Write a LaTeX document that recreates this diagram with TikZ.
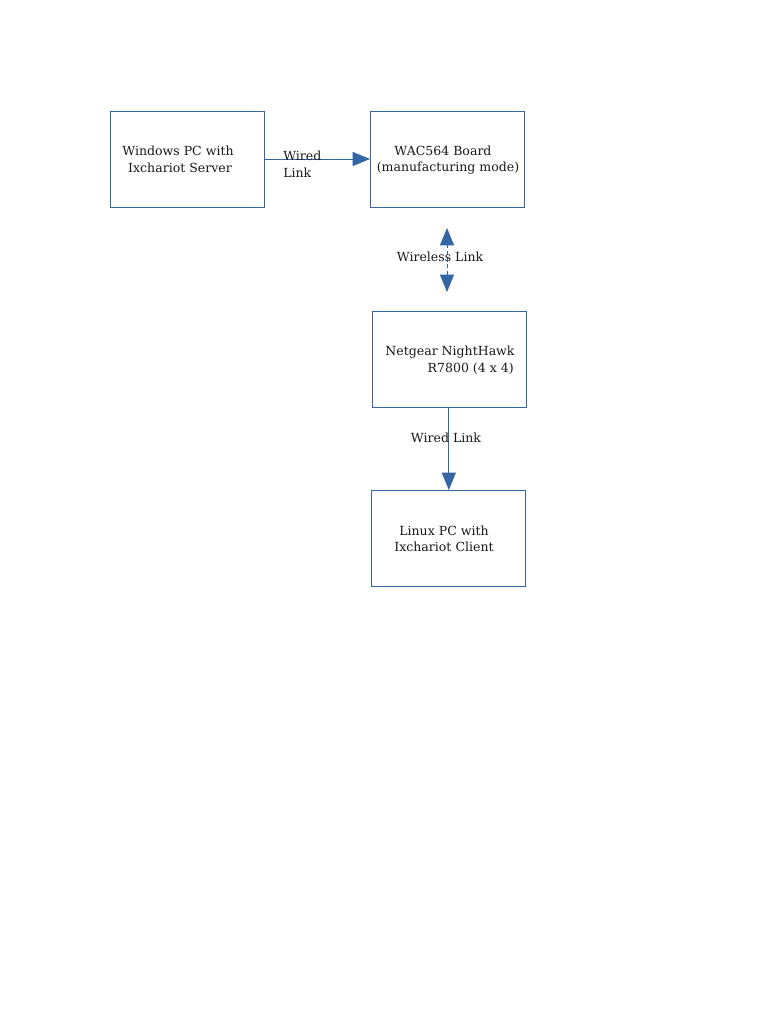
\documentclass[tikz,border=0pt]{standalone}
\usepackage{fontspec}
\setmainfont{DejaVu Serif}
\usetikzlibrary{arrows.meta}
\definecolor{lblue}{RGB}{52,101,164}
\begin{document}
\begin{tikzpicture}[x=0.75pt,y=-0.75pt,
  box/.style={draw=lblue,line width=0.75pt,minimum width=115.5pt,minimum height=72pt,inner sep=0pt},
  conn/.style={draw=lblue,line width=0.75pt,-{Triangle[length=13pt,width=10.5pt]}},
  txt/.style={font=\fontsize{9.4pt}{12.5pt}\selectfont,inner sep=0pt,text=black!90}]
\useasboundingbox[fill=white] (0,0) rectangle (768,1024);
\node[box] (win) at (187,159) {};
\node[box] (wac) at (447.5,159) {};
\node[box] (net) at (449.5,359.5) {};
\node[box] (lin) at (448.5,538.5) {};
% texts
\node[txt] at (178,151) {Windows PC with};
\node[txt] at (180,168) {Ixchariot Server};
\node[txt] at (443,151) {WAC564 Board};
\node[txt] at (448,168) {(manufacturing mode)};
\node[txt] at (450,352) {Netgear NightHawk};
\node[txt,anchor=east] at (514,369) {R7800 (4 x 4)};
\node[txt] at (444,531) {Linux PC with};
\node[txt] at (444,547) {Ixchariot Client};
% connectors
\draw[conn] (win.east) -- (wac.west);
\node[txt,anchor=west] at (283,156) {Wired};
\node[txt,anchor=west] at (283,173) {Link};
\coordinate (wt) at (447,228);
\coordinate (wb) at (447,292);
\draw[draw=lblue,line width=0.75pt,densely dashed,{Triangle[length=13pt,width=10.5pt]}-{Triangle[length=13pt,width=10.5pt]}] (wb) -- (wt);
\node[txt] at (440,257) {Wireless Link};
\draw[conn] ([xshift=-0.5]net.south) -- ([xshift=-0.5]net.south |- lin.north);
\node[txt] at (446,438) {Wired Link};
\end{tikzpicture}
\end{document}
